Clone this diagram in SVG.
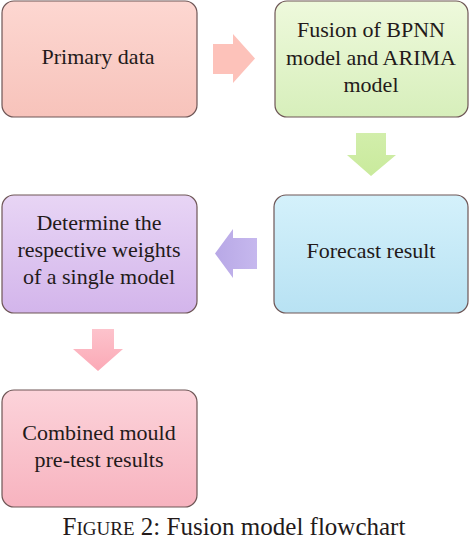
<svg xmlns="http://www.w3.org/2000/svg" width="470" height="542" viewBox="0 0 470 542">
<defs>
<linearGradient id="g1" x1="0" y1="0" x2="0" y2="1"><stop offset="0" stop-color="#fdd7d1"/><stop offset="1" stop-color="#f7c3bb"/></linearGradient>
<linearGradient id="g2" x1="0" y1="0" x2="0" y2="1"><stop offset="0" stop-color="#eef9dc"/><stop offset="1" stop-color="#d7efbb"/></linearGradient>
<linearGradient id="g3" x1="0" y1="0" x2="0" y2="1"><stop offset="0" stop-color="#d4f1fb"/><stop offset="1" stop-color="#b8e2f3"/></linearGradient>
<linearGradient id="g4" x1="0" y1="0" x2="0" y2="1"><stop offset="0" stop-color="#e8d5f5"/><stop offset="1" stop-color="#d3b5eb"/></linearGradient>
<linearGradient id="g5" x1="0" y1="0" x2="0" y2="1"><stop offset="0" stop-color="#fcd3da"/><stop offset="1" stop-color="#f7b3bf"/></linearGradient>
<linearGradient id="a2" x1="0" y1="0" x2="0" y2="1"><stop offset="0" stop-color="#d2eeab"/><stop offset="1" stop-color="#c9ea9c"/></linearGradient>
<linearGradient id="a3" x1="0" y1="0" x2="1" y2="0"><stop offset="0" stop-color="#b8a8e6"/><stop offset="1" stop-color="#c6b8ee"/></linearGradient>
<linearGradient id="a4" x1="0" y1="0" x2="0" y2="1"><stop offset="0" stop-color="#fdc3cc"/><stop offset="1" stop-color="#fba9b6"/></linearGradient>
</defs>
<style>
.box{stroke:#6e5656;stroke-width:1.2}
.t{font-family:"Liberation Serif","Times New Roman",serif;font-size:22px;fill:#231a1a;text-anchor:middle}
.cap{font-family:"Liberation Serif","Times New Roman",serif;font-size:25px;fill:#231a1a;text-anchor:middle}
</style>
<rect width="470" height="542" fill="#ffffff"/>
<g id="connectors">
<polygon points="213,44 233,44 233,34 255,58.5 233,83 233,74 213,74" fill="#fdc2ba"/>
<polygon points="356,133 386,133 386,155 396,155 371,176 347,155 356,155" fill="url(#a2)"/>
<polygon points="257,238 233,238 233,229 215,253.5 233,278 233,269 257,269" fill="url(#a3)"/>
<polygon points="92,329 114,329 114,349 123,349 98,371 73,349 92,349" fill="url(#a4)"/>
</g>
<g id="n1">
<rect class="box" x="2" y="1" width="195" height="116" rx="12" fill="url(#g1)"/>
<text class="t" x="98" y="64">Primary data</text>
</g>
<g id="n2">
<rect class="box" x="275" y="1" width="193" height="116" rx="12" fill="url(#g2)" stroke="#7a8a6a"/>
<text class="t" x="371" y="37">Fusion of BPNN</text>
<text class="t" x="371" y="64.5">model and ARIMA</text>
<text class="t" x="371" y="92">model</text>
</g>
<g id="n3">
<rect class="box" x="274" y="195" width="194" height="118" rx="12" fill="url(#g3)" stroke="#5f7a86"/>
<text class="t" x="371" y="258">Forecast result</text>
</g>
<g id="n4">
<rect class="box" x="2" y="195" width="195" height="118" rx="12" fill="url(#g4)" stroke="#6a5672"/>
<text class="t" x="99" y="230">Determine the</text>
<text class="t" x="99" y="257">respective weights</text>
<text class="t" x="99" y="284">of a single model</text>
</g>
<g id="n5">
<rect class="box" x="2" y="390" width="195" height="117" rx="12" fill="url(#g5)" stroke="#6e5258"/>
<text class="t" x="99" y="440">Combined mould</text>
<text class="t" x="99" y="467">pre-test results</text>
</g>
<text class="cap" x="234" y="535">F<tspan font-size="19">IGURE</tspan> 2: Fusion model flowchart</text>
</svg>
